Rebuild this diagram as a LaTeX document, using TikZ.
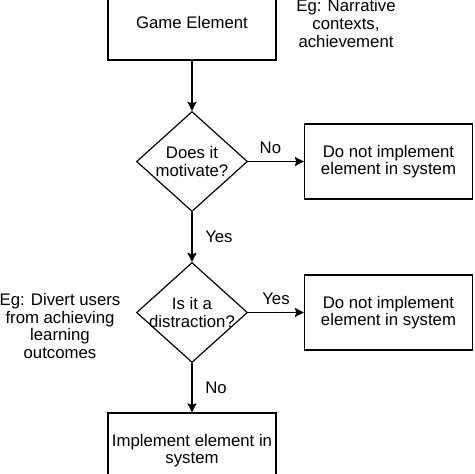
\documentclass[tikz,border=0pt]{standalone}
\usepackage{fontspec}
\setmainfont{Liberation Sans}
\usetikzlibrary{shapes.geometric,arrows.meta}

\tikzset{
  box/.style={draw, line width=1pt, minimum width=5.04cm, minimum height=2.25cm, align=center, inner sep=0},
  decision/.style={draw, diamond, line width=1pt, minimum width=3.33cm, minimum height=3cm, inner sep=0},
  txt/.style={align=center, inner sep=0},
  lbl/.style={inner sep=0},
  arr/.style={line width=1pt, -{Stealth[length=0.27cm,width=0.27cm,inset=0.04cm]}},
}

\begin{document}
\begin{tikzpicture}[x=0.03cm,y=-0.03cm,font=\fontsize{14.3}{15}\selectfont]
    \useasboundingbox (0,0) rectangle (474,474);

    % game element
    \node[box] (elem) at (192,22.5) {Game Element} ;
    \node[txt] (egnarr) at (346,23.5) {Eg: Narrative\\contexts,\\achievement} ;

    % does it motivate
    \node[decision] (motiv) at (192,161.5) {} ;
    \node[txt] (motivtxt) at (motiv) {Does it\\motivate?} ;
    \node[box] (nomotiv) at (388.5,161.5) {Do not implement\\element in system} ;

    % is it a distraction
    \node[decision] (distr) at (192,312.5) {} ;
    \node[txt] (distrtxt) at (distr) {Is it a\\distraction?} ;
    \node[box] (yesdistr) at (388.5,312.5) {Do not implement\\element in system} ;
    \node[txt] (egdivert) at (60,326) {Eg: Divert users\\from achieving\\learning\\outcomes} ;

    % implement
    \node[box] (impl) at (192,450.5) {Implement element in\\system} ;

    \draw[arr] (elem) -- (motiv) ;
    \draw[arr] (motiv) -- node[lbl,pos=0.4,above=0.21cm] {No} (nomotiv) ;
    \draw[arr] (motiv) -- node[lbl,right=0.38cm] {Yes} (distr) ;
    \draw[arr] (distr) -- node[lbl,above=0.21cm] {Yes} (yesdistr) ;
    \draw[arr] (distr) -- node[lbl,right=0.38cm] {No} (impl) ;
\end{tikzpicture}
\end{document}
